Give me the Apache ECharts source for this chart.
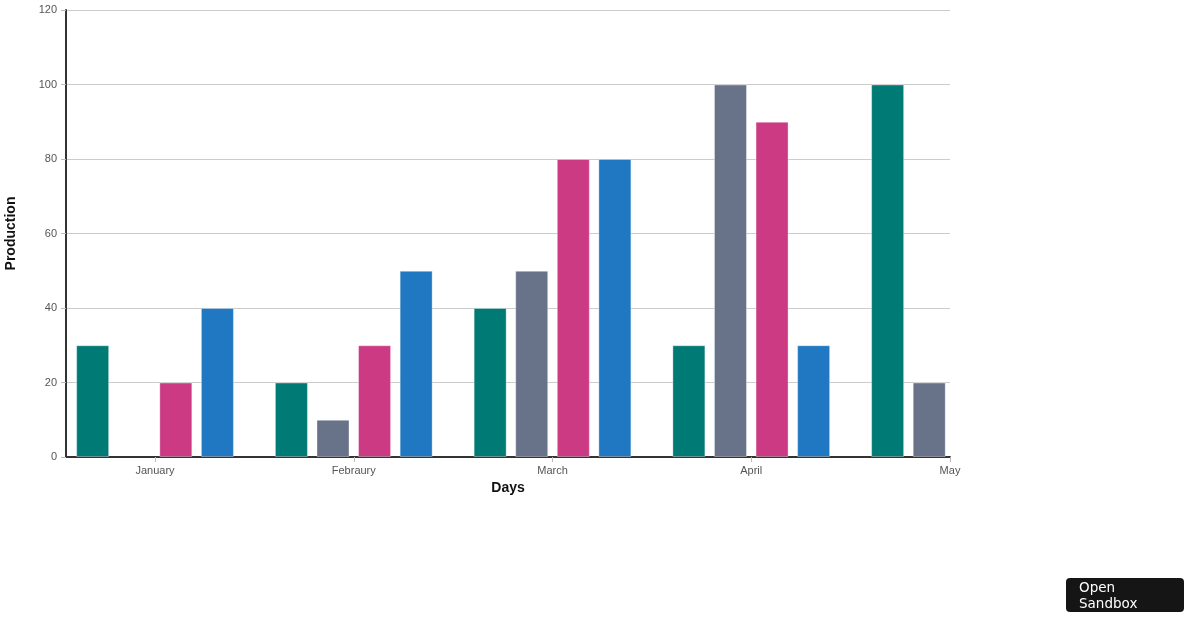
<!DOCTYPE html>
<html>
<head>
<meta charset="utf-8">
<script src="https://cdn.jsdelivr.net/npm/echarts@6/dist/echarts.min.js"></script>
<style>
html,body{margin:0;padding:0;background:#fff;}
#chart{position:absolute;left:0;top:0;width:1200px;height:630px;}
#sandbox{position:absolute;left:1066px;top:578px;width:105px;height:33px;padding-left:13px;padding-top:1px;background:#151515;border-radius:4px;color:#fff;font-family:"DejaVu Sans",sans-serif;font-size:13.5px;line-height:16px;box-sizing:content-box;}
</style>
</head>
<body>
<div id="chart"></div>
<div id="sandbox">Open<br>Sandbox</div>
<script>
const months = ['January', 'Febraury', 'March', 'April', 'May'];
const tealValues = [30, 20, 40, 30, 100];
const greyValues = [null, 10, 50, 100, 20];
const pinkValues = [20, 30, 80, 90, null];
const blueValues = [40, 50, 80, 30, null];
const yTicks = [0, 20, 40, 60, 80, 100, 120];
const colors = ['#007a75', '#68738a', '#cb3a83', '#1f78c1'];

const monthIdx = months.map((m, i) => i);
const toPairs = arr => arr.map((v, i) => [i, v]);

const chart = echarts.init(document.getElementById('chart'), null, {renderer: 'canvas'});
const labelFont = {fontFamily: 'Liberation Sans, Arial, sans-serif', fontSize: 11, color: '#555'};
const seriesList = [tealValues, greyValues, pinkValues, blueValues].map((vals, k) => ({
  type: 'bar',
  name: 'Series ' + (k + 1),
  data: toPairs(vals),
  barWidth: 33,
  barGap: '26%',
  clip: true,
  itemStyle: {color: colors[k], borderColor: 'rgba(255,255,255,0.35)', borderWidth: 1}
}));

chart.setOption({
  animation: false,
  grid: {left: 66, right: 250, top: 10, bottom: 173, containLabel: false, outerBoundsMode: 'none'},
  xAxis: {
    type: 'value',
    min: -0.448,
    max: 4,
    name: 'Days',
    nameLocation: 'middle',
    nameGap: 24,
    nameTextStyle: {fontFamily: 'Liberation Sans, Arial, sans-serif', fontSize: 14, fontWeight: 'bold', color: '#111'},
    axisLine: {show: true, onZero: false, lineStyle: {color: '#333', width: 2}},
    axisTick: {show: true, customValues: monthIdx, length: 5, lineStyle: {color: '#bbb'}},
    axisLabel: Object.assign({customValues: monthIdx, margin: 8, formatter: v => months[Math.round(v)]}, labelFont),
    splitLine: {show: false}
  },
  yAxis: {
    type: 'value',
    min: 0,
    max: 120,
    interval: 20,
    name: 'Production',
    nameLocation: 'middle',
    nameGap: 48,
    nameRotate: 90,
    nameTextStyle: {fontFamily: 'Liberation Sans, Arial, sans-serif', fontSize: 14, fontWeight: 'bold', color: '#111'},
    axisLine: {show: true, onZero: false, lineStyle: {color: '#333', width: 2}},
    axisTick: {show: true, length: 5, lineStyle: {color: '#bbb'}},
    axisLabel: Object.assign({margin: 9, formatter: v => yTicks.includes(v) ? String(v) : ''}, labelFont),
    splitLine: {show: true, lineStyle: {color: '#ccc', width: 1}}
  },
  series: seriesList
});
</script>
</body>
</html>
